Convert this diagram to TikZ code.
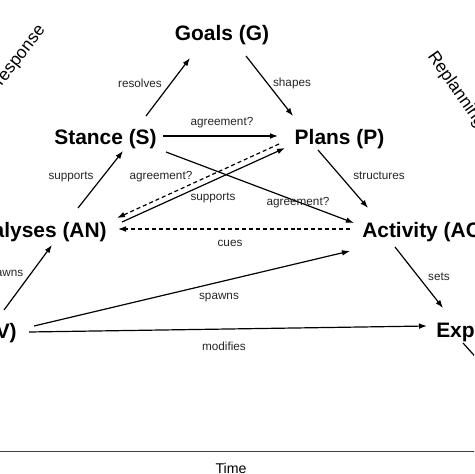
\documentclass[tikz,border=0pt]{standalone}
\usepackage{fontspec}
\setmainfont{Liberation Sans}
\usetikzlibrary{arrows.meta}
\tikzset{
  big/.style={font=\fontsize{15.7}{18}\selectfont\bfseries, inner sep=0pt},
  lbl/.style={font=\fontsize{8.8}{10}\selectfont, text=black!85, inner sep=0pt},
  side/.style={font=\fontsize{13}{15}\selectfont, inner sep=0pt},
  arr/.style={-{Latex[length=6pt,width=4.3pt]}, line width=0.9pt},
  ln/.style={line width=0.9pt},
  dsh/.style={dash pattern=on 3pt off 2.2pt}
}
\begin{document}
\begin{tikzpicture}[x=0.75pt,y=-0.75pt]
\useasboundingbox (0,0) rectangle (474,474);
\fill[white] (0,0) rectangle (474,474);
\clip (0,0) rectangle (474,474);

% main nodes
\node[big, anchor=base] (G) at (222,41) {Goals (G)};
\node[big, anchor=base] (S) at (105.5,145) {Stance (S)};
\node[big, anchor=base] (P) at (339.5,145) {Plans (P)};
\node[big, anchor=base east] (AN) at (107,237) {Analyses (AN)};
\node[big, anchor=base west] (AC) at (362,237) {Activity (AC)};
\node[big, anchor=base east] (EV) at (17,338) {Events (EV)};
\node[big, anchor=base west] (EX) at (436,337) {Expectations (EX)};

% rotated side texts
\node[side, rotate=52, anchor=mid east] (resp) at (43,28) {response};
\node[side, rotate=-55, anchor=mid west] (repl) at (430,54) {Replanning};

% time axis
\coordinate (tl) at (-5,451.5);
\coordinate (tr) at (480,451.5);
\draw[line width=1pt, black!75] (tl) -- (tr);
\node[font=\fontsize{10.6}{12}\selectfont, inner sep=0pt] (time) at (231,468) {Time};

% connectors
\draw[arr] ([shift={(40.5,-29)}]S.base) -- ([shift={(-32,17)}]G.base);
\draw[arr] ([shift={(24,15)}]G.base) -- ([shift={(-46.5,-29)}]P.base);
\draw[arr] ([shift={(57.5,-9)}]S.base) -- ([shift={(-61.5,-9)}]P.base);
\draw[arr] ([shift={(60.5,7)}]S.base) -- ([shift={(-8,-14)}]AC.base west);
\draw[arr] ([shift={(15,-15)}]AN.base east) -- ([shift={(-54.5,3)}]P.base);
\draw[arr,dsh] ([shift={(-60.5,-1)}]P.base) -- ([shift={(10,-19)}]AN.base east);
\draw[arr,dsh] ([shift={(-12,-8)}]AC.base west) -- ([shift={(11,-8)}]AN.base east);
\draw[arr] ([shift={(-29,-29)}]AN.base east) -- ([shift={(17.5,6)}]S.base);
\draw[arr] ([shift={(-21.5,5)}]P.base) -- ([shift={(6,-29)}]AC.base west);
\draw[arr] ([shift={(-13,-28)}]EV.base east) -- ([shift={(-55,8)}]AN.base east);
\draw[arr] ([shift={(17,-12)}]EV.base east) -- ([shift={(-12,14)}]AC.base west);
\draw[arr] ([shift={(12,-6)}]EV.base east) -- ([shift={(-9,-11)}]EX.base west);
\draw[arr] ([shift={(33,10)}]AC.base west) -- ([shift={(7,-29)}]EX.base west);
\coordinate (exout) at (490,373);
\draw[ln] ([shift={(27,6)}]EX.base west) -- (exout);

% labels
\node[lbl] (l1) at (140,83) {resolves};
\node[lbl] (l2) at (292,83) {shapes};
\node[lbl] (l3) at (222,123) {agreement?};
\node[lbl] (l4) at (161,177) {agreement?};
\node[lbl] (l5) at (213,198) {supports};
\node[lbl] (l6) at (298,203) {agreement?};
\node[lbl] (l7) at (230,243) {cues};
\node[lbl] (l8) at (71,177) {supports};
\node[lbl] (l9) at (379,176) {structures};
\node[lbl, anchor=east] (l10) at (23.5,275) {spawns};
\node[lbl] (l11) at (219,298) {spawns};
\node[lbl] (l12) at (224,346) {modifies};
\node[lbl] (l13) at (439,277) {sets};
\end{tikzpicture}
\end{document}
